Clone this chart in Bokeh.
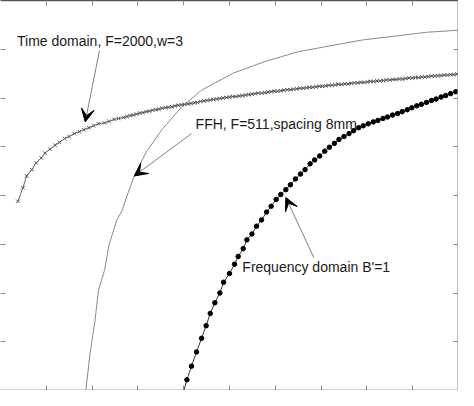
from bokeh.core.properties import value
from bokeh.embed import file_html
from bokeh.models import Arrow, CustomLabelingPolicy, FixedTicker, LinearAxis, Range1d, VeeHead
from bokeh.plotting import figure
from bokeh.resources import INLINE

# Time domain, F=2000, w=3 (crosses)
time_x = [0.38, 0.49, 0.57, 0.68, 0.78, 0.89, 0.97, 1.08, 1.19, 1.29, 1.40, 1.50,
          1.61, 1.72, 1.82, 1.93, 2.03, 2.14, 2.27, 2.37, 2.48, 2.58, 2.69,
          2.76, 2.83, 2.90, 2.97, 3.04, 3.11, 3.18, 3.25, 3.32, 3.39, 3.46, 3.53,
          3.60, 3.67, 3.74, 3.81, 3.88, 3.95, 4.02, 4.09, 4.16, 4.23, 4.30, 4.37,
          4.44, 4.51, 4.58, 4.65, 4.72, 4.79, 4.86, 4.93, 5.00, 5.07, 5.14, 5.21,
          5.28, 5.35, 5.42, 5.49, 5.56, 5.63, 5.70, 5.77, 5.84, 5.91, 5.98, 6.05,
          6.12, 6.19, 6.26, 6.33, 6.40, 6.47, 6.54, 6.61, 6.68, 6.75, 6.82, 6.89,
          6.96, 7.03, 7.10, 7.17, 7.24, 7.31, 7.38, 7.45, 7.52, 7.59, 7.66, 7.73,
          7.80, 7.87, 7.94, 8.01, 8.08, 8.15, 8.22, 8.29, 8.36, 8.43, 8.50, 8.57,
          8.64, 8.71, 8.78, 8.85, 8.92, 8.99, 9.06, 9.13, 9.20, 9.27, 9.34, 9.41,
          9.48, 9.55, 9.62, 9.69, 9.76, 9.83, 9.90, 9.97]
time_y = [3.88, 4.16, 4.40, 4.53, 4.67, 4.77, 4.87, 4.95, 5.03, 5.09, 5.17, 5.21,
          5.27, 5.31, 5.35, 5.39, 5.43, 5.47, 5.49, 5.52, 5.56, 5.58, 5.60,
          5.62, 5.64, 5.65, 5.67, 5.69, 5.70, 5.72, 5.73, 5.75, 5.76, 5.77, 5.79,
          5.80, 5.81, 5.82, 5.84, 5.85, 5.86, 5.87, 5.88, 5.89, 5.90, 5.91, 5.93,
          5.94, 5.95, 5.96, 5.97, 5.98, 5.99, 6.00, 6.01, 6.02, 6.03, 6.03, 6.04,
          6.05, 6.06, 6.07, 6.08, 6.09, 6.10, 6.10, 6.11, 6.12, 6.13, 6.14, 6.14,
          6.15, 6.16, 6.17, 6.17, 6.18, 6.19, 6.20, 6.20, 6.21, 6.22, 6.22, 6.23,
          6.24, 6.24, 6.25, 6.26, 6.26, 6.27, 6.28, 6.28, 6.29, 6.29, 6.30, 6.31,
          6.31, 6.32, 6.32, 6.33, 6.34, 6.34, 6.35, 6.35, 6.36, 6.37, 6.37, 6.38,
          6.38, 6.39, 6.39, 6.40, 6.41, 6.41, 6.42, 6.42, 6.43, 6.43, 6.44, 6.45,
          6.45, 6.46, 6.46, 6.47, 6.47, 6.48, 6.48, 6.49]

# FFH, F=511, spacing 8mm (plain line)
ffh_x = [1.86, 1.91, 1.95, 2.06, 2.14, 2.27, 2.37, 2.54, 2.65, 2.78, 2.92, 3.18,
         3.54, 3.96, 4.39, 5.08, 5.78, 6.50, 7.20, 7.90, 8.62, 9.32, 10.0]
ffh_y = [0.00, 0.38, 0.73, 1.41, 2.06, 2.46, 2.99, 3.50, 3.68, 4.04, 4.40, 4.89,
         5.37, 5.82, 6.16, 6.51, 6.75, 6.95, 7.07, 7.19, 7.27, 7.35, 7.39]

# Frequency domain B'=1 (dots)
freq_x = [3.98, 4.07, 4.17, 4.28, 4.39, 4.49, 4.58, 4.68, 4.79, 4.87, 5.00, 5.11,
          5.19, 5.30, 5.38, 5.49, 5.59, 5.70, 5.81, 5.91, 6.02, 6.12, 6.23, 6.33,
          6.44, 6.55, 6.65, 6.76, 6.86, 6.97, 7.08, 7.18, 7.29, 7.39, 7.50, 7.61,
          7.71, 7.82, 7.92, 8.03, 8.14, 8.24, 8.35, 8.45, 8.56, 8.67, 8.77, 8.88,
          8.98, 9.09, 9.19, 9.30, 9.41, 9.51, 9.62, 9.72, 9.83, 9.94]
freq_y = [-0.08, 0.22, 0.50, 0.79, 1.07, 1.33, 1.58, 1.80, 2.00, 2.22, 2.40, 2.59,
          2.75, 2.91, 3.09, 3.21, 3.37, 3.50, 3.66, 3.78, 3.92, 4.02, 4.12, 4.22,
          4.34, 4.44, 4.53, 4.65, 4.73, 4.81, 4.91, 4.99, 5.07, 5.15, 5.21, 5.27,
          5.33, 5.39, 5.43, 5.47, 5.51, 5.54, 5.58, 5.61, 5.65, 5.68, 5.72, 5.76,
          5.80, 5.84, 5.87, 5.91, 5.95, 5.98, 6.02, 6.05, 6.09, 6.13]

x_ticks = [1, 2, 3, 4, 5, 6, 7, 8, 9]
y_ticks = [1, 2, 3, 4, 5, 6, 7]

labels = ["Time domain, F=2000,w=3", "FFH, F=511,spacing 8mm", "Frequency domain B'=1"]
label_x = [0.36, 4.26, 5.28]
label_y = [7.17, 5.47, 2.53]
arrow_start = [(2.16, 6.97), (4.17, 5.27), (6.84, 2.73)]
arrow_end = [(1.85, 5.51), (2.92, 4.40), (6.23, 3.96)]

p = figure(width=458, height=390, x_range=Range1d(0, 10), y_range=Range1d(0, 8),
           output_backend="svg", toolbar_location=None, min_border=0,
           background_fill_color="white", border_fill_color="white")
p.grid.visible = False
p.outline_line_color = None

p.add_layout(LinearAxis(), "above")
p.add_layout(LinearAxis(), "right")

# the picture is cropped: tick marks only, no tick labels
no_labels = CustomLabelingPolicy(code="for (const i of Array.from(indices)) indices.unset(i); return indices")

for ax in p.xaxis:
    ax.ticker = FixedTicker(ticks=x_ticks)
for ax in p.yaxis:
    ax.ticker = FixedTicker(ticks=y_ticks)
for ax in p.axis:
    ax.major_tick_in = 5
    ax.major_tick_out = 0
    ax.minor_tick_line_color = None
    ax.major_tick_line_color = "#888888"
    ax.major_label_text_font_size = "0px"
    ax.major_label_standoff = 0
    ax.major_label_policy = no_labels
    ax.axis_line_color = "#555555"
    ax.axis_line_width = 1.5
p.yaxis[0].axis_line_color = None
p.yaxis[1].axis_line_color = "#888888"
p.yaxis[1].axis_line_width = 2

p.line(ffh_x, ffh_y, line_color="#8a8a8a", line_width=1)

p.line(time_x, time_y, line_color="#666666", line_width=1)
p.scatter(time_x, time_y, marker="x", size=5, line_color="#555555", line_width=1)

p.line(freq_x, freq_y, line_color="black", line_width=0.8)
p.scatter(freq_x, freq_y, marker="circle", size=4.5, fill_color="black", line_color="black")

for (x0, y0), (x1, y1) in zip(arrow_start, arrow_end):
    p.add_layout(Arrow(x_start=x0, y_start=y0, x_end=x1, y_end=y1,
                       line_color="#808080", line_width=1,
                       end=VeeHead(size=13, fill_color="black", line_color="black")))

p.text(label_x, label_y, text=labels, text_font=value("Liberation Sans"),
       text_font_size="14px", text_color="#1a1a1a", text_baseline="middle")

open("out.html", "w").write(file_html(p, INLINE))
